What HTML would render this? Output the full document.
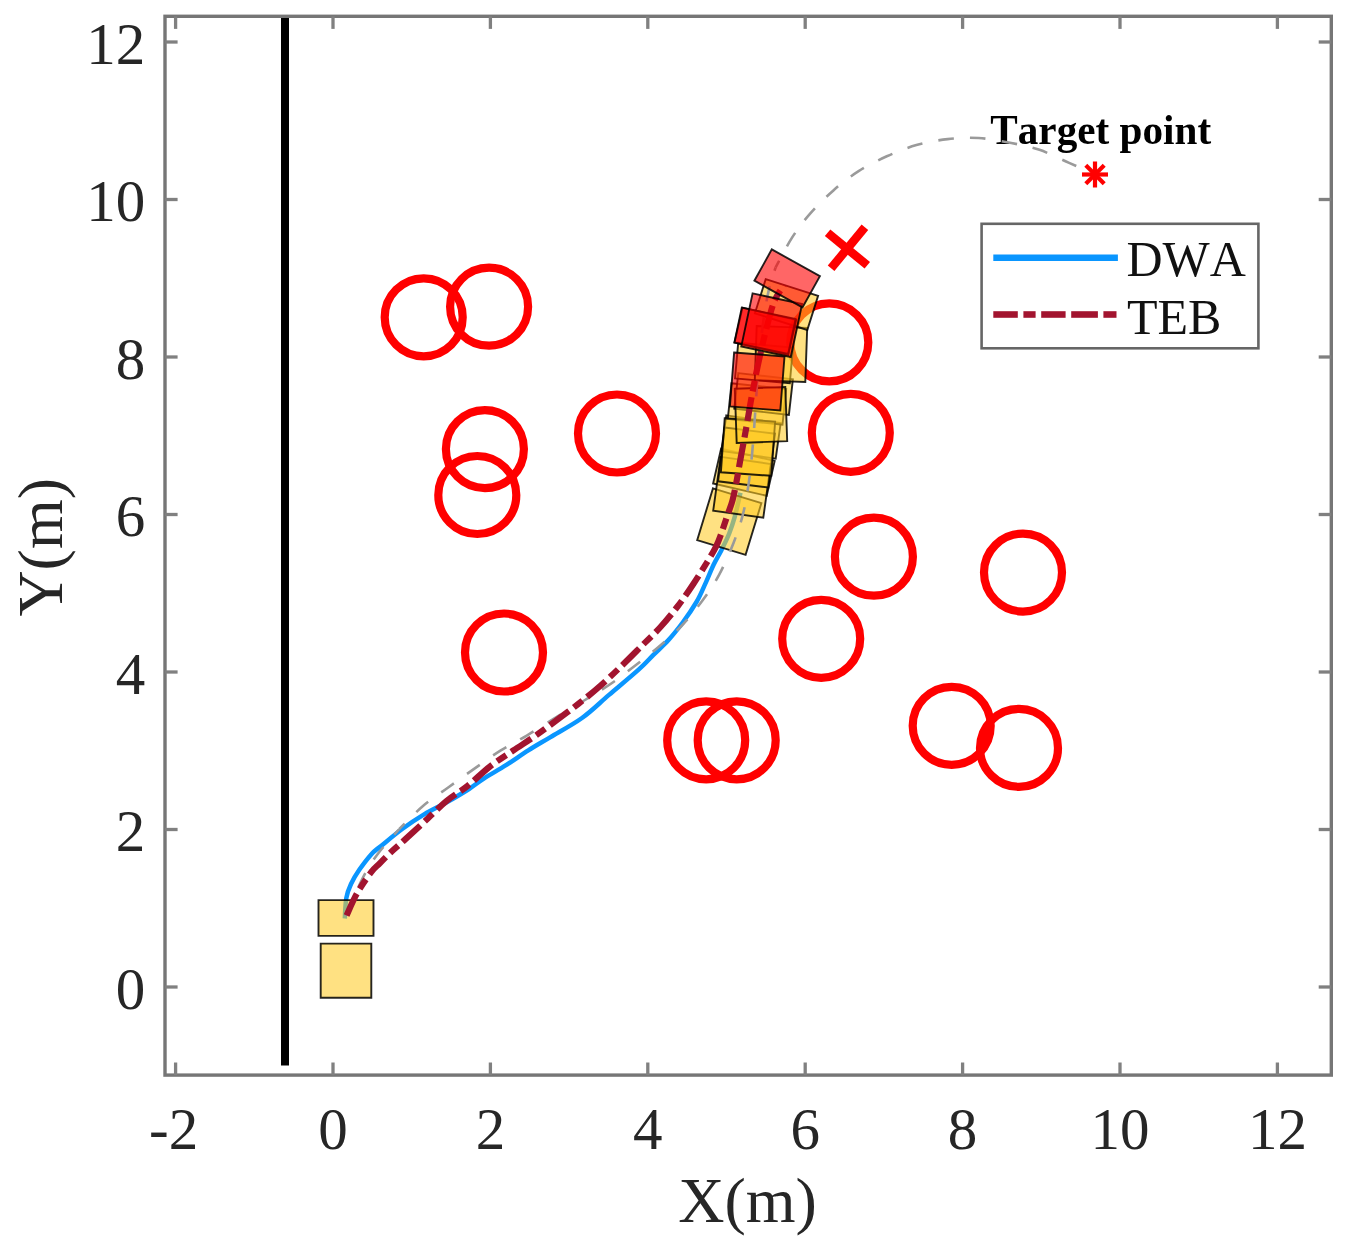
<!DOCTYPE html>
<html><head><meta charset="utf-8"><title>Trajectory plot</title><style>html,body{margin:0;padding:0;background:#fff}svg{display:block;filter:blur(0.55px)}</style></head><body>
<svg width="1349" height="1255" viewBox="0 0 1349 1255">
<rect x="0" y="0" width="1349" height="1255" fill="#fff"/>
<g fill="none" stroke="#ff0000" stroke-width="8.2">
<circle cx="423.7" cy="317.3" r="39"/>
<circle cx="489.1" cy="306.7" r="39"/>
<circle cx="484.9" cy="449.1" r="39"/>
<circle cx="477.3" cy="495.0" r="39"/>
<circle cx="617.0" cy="433.5" r="39"/>
<circle cx="504.0" cy="652.5" r="39"/>
<circle cx="706.2" cy="740.3" r="39"/>
<circle cx="736.7" cy="740.3" r="39"/>
<circle cx="829.3" cy="342.4" r="39"/>
<circle cx="850.8" cy="432.8" r="39"/>
<circle cx="873.9" cy="556.7" r="39"/>
<circle cx="821.2" cy="638.8" r="39"/>
<circle cx="1023.0" cy="572.6" r="39"/>
<circle cx="951.7" cy="725.8" r="39"/>
<circle cx="1019.0" cy="747.9" r="39"/>
</g>
<line x1="285" y1="16.3" x2="285" y2="1065.5" stroke="#000" stroke-width="8"/>
<path d="M344.8 918.5 C345.1 915.1 345.3 904.0 346.3 898.2 C347.3 892.5 348.8 888.7 351.0 884.0 C353.2 879.3 355.9 874.7 359.3 869.8 C362.7 864.9 367.8 858.2 371.2 854.4 C374.6 850.6 374.8 851.0 380.0 846.8 C385.2 842.6 394.8 834.4 402.2 829.0 C409.6 823.6 417.1 818.7 424.5 814.2 C431.9 809.8 439.3 806.5 446.7 802.3 C454.1 798.1 462.8 793.0 469.0 789.0 C475.2 785.0 477.6 782.6 483.8 778.6 C490.0 774.6 498.6 769.9 506.0 765.2 C513.4 760.5 520.9 755.1 528.3 750.4 C535.7 745.7 541.5 742.5 550.5 737.1 C559.5 731.7 572.2 725.0 582.0 718.0 C591.8 711.0 599.6 702.9 609.0 694.9 C618.4 686.9 631.2 676.4 638.6 669.7 C646.0 663.0 648.4 659.9 653.4 654.9 C658.4 649.9 663.6 645.4 668.5 640.0 C673.4 634.6 678.0 628.8 682.7 622.5 C687.4 616.2 692.6 608.6 696.5 602.0 C700.4 595.4 702.9 588.8 705.8 582.6 C708.6 576.4 711.0 570.1 713.6 564.7 C716.2 559.3 718.8 555.4 721.4 550.2 C724.0 545.0 727.0 539.1 729.2 533.5 C731.4 527.9 732.9 523.5 734.8 516.7 C736.7 509.9 739.5 496.7 740.5 492.7" fill="none" stroke="#0a96ff" stroke-width="4.5" stroke-linecap="butt" stroke-linejoin="round"/>
<polygon points="318.5,900.1 373.5,900.1 373.5,935.9 318.5,935.9" fill="rgba(255,202,35,0.57)" stroke="rgba(0,0,0,0.85)" stroke-width="1.9" stroke-linejoin="miter"/>
<polygon points="320.7,943.6 371.3,943.6 371.3,997.8 320.7,997.8" fill="rgba(255,202,35,0.57)" stroke="rgba(0,0,0,0.85)" stroke-width="1.9" stroke-linejoin="miter"/>
<polygon points="713.0,488.3 761.4,503.1 745.6,554.9 697.2,540.1" fill="rgba(255,202,35,0.57)" stroke="rgba(0,0,0,0.85)" stroke-width="1.9" stroke-linejoin="miter"/>
<polygon points="721.1,448.6 774.7,460.9 766.7,495.8 713.1,483.5" fill="rgba(255,202,35,0.57)" stroke="rgba(0,0,0,0.85)" stroke-width="1.9" stroke-linejoin="miter"/>
<polygon points="720.7,456.9 770.8,464.0 763.3,517.7 713.2,510.6" fill="rgba(255,202,35,0.57)" stroke="rgba(0,0,0,0.85)" stroke-width="1.9" stroke-linejoin="miter"/>
<polygon points="726.3,415.4 780.7,423.1 775.7,458.6 721.3,450.9" fill="rgba(255,202,35,0.57)" stroke="rgba(0,0,0,0.85)" stroke-width="1.9" stroke-linejoin="miter"/>
<polygon points="724.7,427.5 774.9,433.7 768.3,487.5 718.1,481.3" fill="rgba(255,202,35,0.57)" stroke="rgba(0,0,0,0.85)" stroke-width="1.9" stroke-linejoin="miter"/>
<polygon points="731.5,383.3 786.2,389.1 782.5,424.7 727.8,418.9" fill="rgba(255,202,35,0.57)" stroke="rgba(0,0,0,0.85)" stroke-width="1.9" stroke-linejoin="miter"/>
<polygon points="724.7,418.2 775.1,421.7 771.3,475.8 720.9,472.3" fill="rgba(255,202,35,0.57)" stroke="rgba(0,0,0,0.85)" stroke-width="1.9" stroke-linejoin="miter"/>
<polygon points="738.3,373.1 792.9,379.3 788.9,414.9 734.3,408.7" fill="rgba(255,202,35,0.57)" stroke="rgba(0,0,0,0.85)" stroke-width="1.9" stroke-linejoin="miter"/>
<polygon points="734.8,388.8 785.3,387.0 787.2,441.2 736.7,443.0" fill="rgba(255,202,35,0.57)" stroke="rgba(0,0,0,0.85)" stroke-width="1.9" stroke-linejoin="miter"/>
<polygon points="738.2,342.8 793.0,347.6 789.8,383.2 735.0,378.4" fill="rgba(255,202,35,0.57)" stroke="rgba(0,0,0,0.85)" stroke-width="1.9" stroke-linejoin="miter"/>
<polygon points="756.7,326.0 807.2,327.8 805.3,382.0 754.8,380.2" fill="rgba(255,202,35,0.57)" stroke="rgba(0,0,0,0.85)" stroke-width="1.9" stroke-linejoin="miter"/>
<polygon points="765.7,279.2 818.1,295.9 807.3,330.0 754.9,313.3" fill="rgba(255,202,35,0.57)" stroke="rgba(0,0,0,0.85)" stroke-width="1.9" stroke-linejoin="miter"/>
<text font-family="'Liberation Serif','Times New Roman',serif" style="font-kerning:none" font-size="41.2" font-weight="bold" fill="#000" x="990.3" y="144">Target point</text>
<path d="M399.3 829.0 C395.8 833.0 383.9 846.0 378.3 853.2 C372.8 860.4 369.6 865.9 366.0 872.0 C362.4 878.1 359.7 884.5 357.0 890.0 C354.3 895.5 352.0 900.4 350.0 905.0 C348.0 909.6 345.9 915.4 345.1 917.5" fill="none" stroke="#9a9a9a" stroke-width="2.6" stroke-dasharray="15.6 16.2" stroke-dashoffset="7.8"/>
<path d="M399.3 829.0 C403.2 825.2 414.9 812.9 423.0 806.0 C431.1 799.1 439.7 793.7 448.2 787.5 C456.7 781.3 465.3 775.1 474.1 768.9 C482.9 762.7 492.0 755.9 500.8 750.4 C509.6 744.9 517.3 741.3 526.8 735.6 C536.3 729.9 548.3 721.9 558.0 716.0 C567.7 710.1 576.0 705.5 585.0 700.0 C594.0 694.5 603.6 688.8 612.0 683.0 C620.4 677.2 628.0 671.1 635.6 665.2 C643.2 659.3 650.2 653.9 657.9 647.4 C665.5 640.9 674.1 633.8 681.5 626.0 C688.9 618.2 696.2 608.9 702.5 600.4 C708.8 591.9 714.0 584.4 719.2 574.7 C724.4 565.0 729.8 552.2 733.7 542.4 C737.6 532.5 740.2 524.7 742.6 515.6 C745.0 506.5 746.5 497.3 748.0 488.0 C749.5 478.7 750.5 469.7 751.5 460.0 C752.5 450.3 753.2 440.0 754.0 430.0 C754.8 420.0 755.3 410.0 756.0 400.0 C756.7 390.0 757.2 380.0 758.0 370.0 C758.8 360.0 759.8 350.0 761.0 340.0 C762.2 330.0 763.5 319.2 765.0 310.0 C766.5 300.8 768.2 292.1 770.0 285.0 C771.8 277.9 774.7 270.4 775.6 267.5" fill="none" stroke="#9a9a9a" stroke-width="2.6" stroke-dasharray="15.6 16.2" stroke-dashoffset="7.8"/>
<path d="M775.6 267.5 C778.3 262.6 786.2 246.8 791.9 237.9 C797.6 229.0 802.8 222.1 809.7 214.2 C816.6 206.3 825.2 197.6 833.4 190.4 C841.5 183.2 849.7 176.9 858.6 171.2 C867.5 165.5 877.2 160.7 886.8 156.3 C896.4 152.0 906.3 148.0 916.4 145.1 C926.5 142.2 937.2 140.3 947.6 139.1 C958.0 137.9 968.1 137.3 978.7 138.0 C989.3 138.7 1001.2 141.0 1011.3 143.0 C1021.4 145.0 1029.9 146.5 1039.5 149.8 C1049.1 153.1 1059.9 158.9 1069.1 162.9 C1078.3 166.9 1090.6 172.2 1094.9 174.1" fill="none" stroke="#9a9a9a" stroke-width="2.6" stroke-dasharray="15.6 16.2" stroke-dashoffset="7.8"/>
<path d="M346.6 915.5 C348.3 911.8 352.8 900.7 356.9 893.5 C361.0 886.3 367.3 877.2 371.2 872.1 C375.1 867.0 376.6 866.6 380.0 863.1 C383.4 859.6 387.7 855.2 391.9 851.2 C396.1 847.2 399.8 844.3 405.2 839.4 C410.6 834.5 417.6 828.0 424.5 821.6 C431.4 815.2 439.5 806.7 446.7 800.8 C453.9 794.9 460.3 791.7 467.5 786.0 C474.7 780.3 482.1 772.6 489.7 766.7 C497.3 760.8 505.7 755.6 513.4 750.4 C521.1 745.2 528.3 740.8 535.7 735.6 C543.1 730.4 550.8 724.6 557.9 719.3 C565.0 714.0 571.2 709.5 578.2 704.0 C585.2 698.5 592.8 692.5 600.1 686.0 C607.5 679.5 615.4 671.9 622.3 665.2 C629.2 658.5 635.2 652.4 641.6 646.0 C648.0 639.6 654.5 633.7 660.5 627.0 C666.5 620.3 672.4 613.2 677.9 606.0 C683.4 598.8 688.7 591.0 693.5 583.7 C698.3 576.5 703.2 568.6 706.9 562.5 C710.6 556.4 713.6 551.5 715.9 546.9 C718.2 542.2 718.9 540.2 720.9 534.6 C722.9 529.0 726.1 519.2 728.1 513.4 C730.1 507.6 731.2 505.4 732.6 500.0 C734.0 494.6 735.4 487.5 736.6 481.1 C737.8 474.7 738.8 468.2 740.0 461.6 C741.2 455.0 742.7 447.0 743.8 441.2 C744.9 435.4 745.5 431.9 746.4 427.0 C747.3 422.1 748.0 417.6 749.0 411.8 C750.0 406.0 751.3 398.4 752.5 392.2 C753.7 386.0 754.8 380.5 756.0 374.4 C757.2 368.3 758.3 363.0 760.0 355.6 C761.7 348.2 763.7 338.9 766.0 330.0 C768.3 321.1 771.0 309.4 774.0 302.0 C777.0 294.6 782.2 288.1 783.8 285.3" fill="none" stroke="#a2142f" stroke-width="6.2" stroke-dasharray="24 6 11 6"/>
<polygon points="742.5,307.6 796.1,319.9 788.1,354.8 734.5,342.5" fill="rgba(255,0,0,0.6)" stroke="rgba(0,0,0,0.85)" stroke-width="1.9" stroke-linejoin="miter"/>
<polygon points="734.1,352.5 784.5,356.5 780.3,410.5 729.9,406.5" fill="rgba(255,0,0,0.6)" stroke="rgba(0,0,0,0.85)" stroke-width="1.9" stroke-linejoin="miter"/>
<polygon points="741.8,307.6 795.6,319.0 788.2,354.0 734.4,342.6" fill="rgba(255,0,0,0.6)" stroke="rgba(0,0,0,0.85)" stroke-width="1.9" stroke-linejoin="miter"/>
<polygon points="752.6,293.4 802.1,304.0 790.8,357.0 741.3,346.4" fill="rgba(255,0,0,0.6)" stroke="rgba(0,0,0,0.85)" stroke-width="1.9" stroke-linejoin="miter"/>
<polygon points="771.8,249.4 819.9,276.1 802.5,307.4 754.4,280.7" fill="rgba(255,0,0,0.6)" stroke="rgba(0,0,0,0.85)" stroke-width="1.9" stroke-linejoin="miter"/>
<g stroke="#ff0000" stroke-width="8.6"><line x1="827.6" y1="232.7" x2="867.3" y2="265.3"/><line x1="864.9" y1="227.3" x2="831.1" y2="268.3"/></g>
<g stroke="#ff0000" stroke-width="4.2">
<line x1="1082.0" y1="174.5" x2="1108.0" y2="174.5"/>
<line x1="1085.8" y1="165.3" x2="1104.2" y2="183.7"/>
<line x1="1095.0" y1="161.5" x2="1095.0" y2="187.5"/>
<line x1="1104.2" y1="165.3" x2="1085.8" y2="183.7"/>
</g>
<rect x="165.0" y="16.3" width="1166.3" height="1058.8" fill="none" stroke="#767676" stroke-width="3.4"/>
<g stroke="#808080" stroke-width="3.3">
<line x1="175.6" y1="1075.1" x2="175.6" y2="1062.5"/>
<line x1="175.6" y1="16.3" x2="175.6" y2="28.9"/>
<line x1="333.0" y1="1075.1" x2="333.0" y2="1062.5"/>
<line x1="333.0" y1="16.3" x2="333.0" y2="28.9"/>
<line x1="490.4" y1="1075.1" x2="490.4" y2="1062.5"/>
<line x1="490.4" y1="16.3" x2="490.4" y2="28.9"/>
<line x1="647.8" y1="1075.1" x2="647.8" y2="1062.5"/>
<line x1="647.8" y1="16.3" x2="647.8" y2="28.9"/>
<line x1="805.2" y1="1075.1" x2="805.2" y2="1062.5"/>
<line x1="805.2" y1="16.3" x2="805.2" y2="28.9"/>
<line x1="962.6" y1="1075.1" x2="962.6" y2="1062.5"/>
<line x1="962.6" y1="16.3" x2="962.6" y2="28.9"/>
<line x1="1120.0" y1="1075.1" x2="1120.0" y2="1062.5"/>
<line x1="1120.0" y1="16.3" x2="1120.0" y2="28.9"/>
<line x1="1277.4" y1="1075.1" x2="1277.4" y2="1062.5"/>
<line x1="1277.4" y1="16.3" x2="1277.4" y2="28.9"/>
<line x1="165.0" y1="987.0" x2="177.6" y2="987.0"/>
<line x1="1331.3" y1="987.0" x2="1318.7" y2="987.0"/>
<line x1="165.0" y1="829.5" x2="177.6" y2="829.5"/>
<line x1="1331.3" y1="829.5" x2="1318.7" y2="829.5"/>
<line x1="165.0" y1="672.0" x2="177.6" y2="672.0"/>
<line x1="1331.3" y1="672.0" x2="1318.7" y2="672.0"/>
<line x1="165.0" y1="514.5" x2="177.6" y2="514.5"/>
<line x1="1331.3" y1="514.5" x2="1318.7" y2="514.5"/>
<line x1="165.0" y1="357.0" x2="177.6" y2="357.0"/>
<line x1="1331.3" y1="357.0" x2="1318.7" y2="357.0"/>
<line x1="165.0" y1="199.5" x2="177.6" y2="199.5"/>
<line x1="1331.3" y1="199.5" x2="1318.7" y2="199.5"/>
<line x1="165.0" y1="42.0" x2="177.6" y2="42.0"/>
<line x1="1331.3" y1="42.0" x2="1318.7" y2="42.0"/>
</g>
<g font-family="'Liberation Serif','Times New Roman',serif" style="font-kerning:none" font-size="59" fill="#262626" text-anchor="middle">
<text x="173.6" y="1148.5">-2</text>
<text x="333.0" y="1148.5">0</text>
<text x="490.4" y="1148.5">2</text>
<text x="647.8" y="1148.5">4</text>
<text x="805.2" y="1148.5">6</text>
<text x="962.6" y="1148.5">8</text>
<text x="1120.0" y="1148.5">10</text>
<text x="1277.4" y="1148.5">12</text>
</g>
<g font-family="'Liberation Serif','Times New Roman',serif" style="font-kerning:none" font-size="59" fill="#262626" text-anchor="end">
<text x="145.3" y="1008.5">0</text>
<text x="145.3" y="851.0">2</text>
<text x="145.3" y="693.5">4</text>
<text x="145.3" y="536.0">6</text>
<text x="145.3" y="378.5">8</text>
<text x="145.3" y="221.0">10</text>
<text x="145.3" y="63.5">12</text>
</g>
<text font-family="'Liberation Serif','Times New Roman',serif" style="font-kerning:none" font-size="64" fill="#262626" text-anchor="middle" x="747.6" y="1222.3">X(m)</text>
<text font-family="'Liberation Serif','Times New Roman',serif" style="font-kerning:none" font-size="64" fill="#262626" text-anchor="middle" transform="translate(62.2,547.3) rotate(-90)">Y(m)</text>
<rect x="981.6" y="223.8" width="276.8" height="124.5" fill="#fff" stroke="#666" stroke-width="2.6"/>
<line x1="993.3" y1="257.8" x2="1117.9" y2="257.8" stroke="#0a96ff" stroke-width="6.6"/>
<g stroke="#a2142f" stroke-width="6.6">
<line x1="993.3" y1="314.5" x2="1017.8" y2="314.5"/>
<line x1="1023.4" y1="314.5" x2="1035.6" y2="314.5"/>
<line x1="1041.2" y1="314.5" x2="1065.6" y2="314.5"/>
<line x1="1071.2" y1="314.5" x2="1097.9" y2="314.5"/>
<line x1="1103.4" y1="314.5" x2="1116.5" y2="314.5"/>
</g>
<text font-family="'Liberation Serif','Times New Roman',serif" style="font-kerning:none" font-size="50" fill="#111" x="1126.5" y="276.3">DWA</text>
<text font-family="'Liberation Serif','Times New Roman',serif" style="font-kerning:none" font-size="50" fill="#111" x="1127" y="333.8">TEB</text>
</svg>
</body></html>
